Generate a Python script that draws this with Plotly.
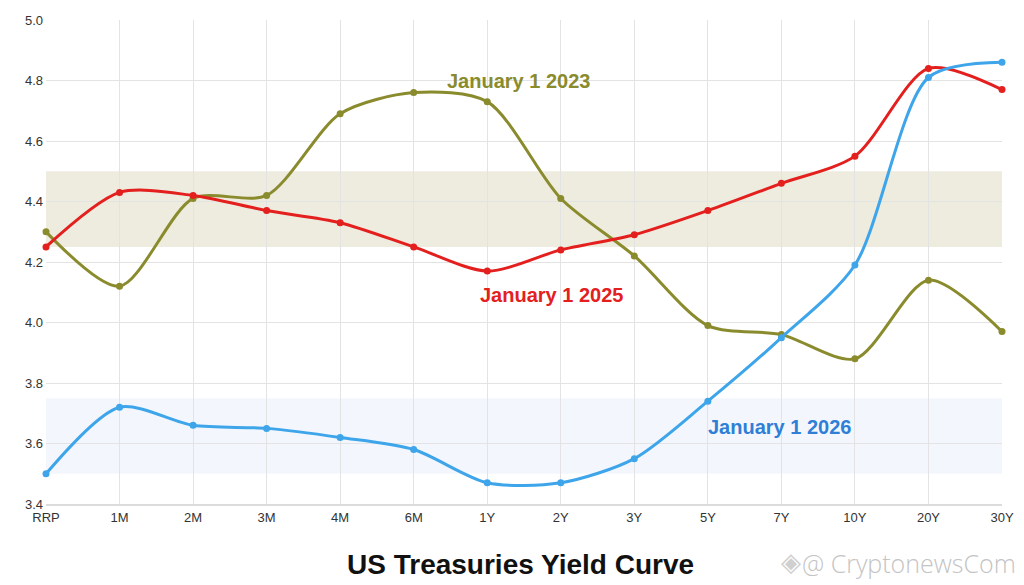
import plotly.graph_objects as go

categories = ["RRP", "1M", "2M", "3M", "4M", "6M", "1Y", "2Y", "3Y", "5Y", "7Y", "10Y", "20Y", "30Y"]
y2023 = [4.30, 4.12, 4.41, 4.42, 4.69, 4.76, 4.73, 4.41, 4.22, 3.99, 3.96, 3.88, 4.14, 3.97]
y2025 = [4.25, 4.43, 4.42, 4.37, 4.33, 4.25, 4.17, 4.24, 4.29, 4.37, 4.46, 4.55, 4.84, 4.77]
y2026 = [3.50, 3.72, 3.66, 3.65, 3.62, 3.58, 3.47, 3.47, 3.55, 3.74, 3.95, 4.19, 4.81, 4.86]
y_ticks = [3.4, 3.6, 3.8, 4.0, 4.2, 4.4, 4.6, 4.8, 5.0]
band_2025 = [4.25, 4.50]
band_2026 = [3.50, 3.75]

c2023 = "#8a8b2d"
c2025 = "#e3201e"
c2026 = "#3ea5ea"

# page offset of the plot div inside the browser window
OFF = 7
W, H = 1024 - OFF, 585 - OFF
L, T = 45 - OFF, 19 - OFF
R = W - (1001 - OFF)
B = H - (503 - OFF)

fig = go.Figure()
for name, ys, col in [("January 1 2023", y2023, c2023),
                      ("January 1 2025", y2025, c2025),
                      ("January 1 2026", y2026, c2026)]:
    fig.add_trace(go.Scatter(
        x=categories, y=ys, mode="lines+markers", name=name,
        line=dict(color=col, width=3, shape="spline", smoothing=0.8),
        marker=dict(color=col, size=7), cliponaxis=False, showlegend=False))

fig.add_shape(type="rect", xref="paper", x0=0, x1=1, yref="y", y0=band_2025[0], y1=band_2025[1],
              fillcolor="#eeebdf", line_width=0, layer="below")
fig.add_shape(type="rect", xref="paper", x0=0, x1=1, yref="y", y0=band_2026[0], y1=band_2026[1],
              fillcolor="#f3f7fd", line_width=0, layer="below")

lab_font = "Liberation Sans, Arial, sans-serif"
fig.add_annotation(x=6.43, y=4.80, xref="x", yref="y", text="<b>January 1 2023</b>", showarrow=False,
                   font=dict(color=c2023, size=20, family=lab_font))
fig.add_annotation(x=6.88, y=4.09, xref="x", yref="y", text="<b>January 1 2025</b>", showarrow=False,
                   font=dict(color=c2025, size=20, family=lab_font))
fig.add_annotation(x=9.98, y=3.655, xref="x", yref="y", text="<b>January 1 2026</b>", showarrow=False,
                   font=dict(color="#2f7fd6", size=20, family=lab_font))

pw = W - L - R
ph = H - T - B
def px_x(x):
    return (x - OFF - L) / pw
def px_y(y):
    return (H - B - (y - OFF)) / ph

fig.add_annotation(x=px_x(519), y=px_y(563), xref="paper", yref="paper", text="<b>US Treasuries Yield Curve</b>",
                   showarrow=False, yanchor="middle",
                   font=dict(color="#111111", size=28, family="Liberation Sans, Arial, sans-serif"))
fig.add_annotation(x=px_x(1017), y=px_y(562), xref="paper", yref="paper", text="@ CryptonewsCom", xanchor="right",
                   yanchor="middle", showarrow=False,
                   font=dict(color="#c4c4c4", size=25, family="Open Sans, sans-serif", weight=300))
fig.add_annotation(x=px_x(790), y=px_y(561), xref="paper", yref="paper", text="◈", xanchor="center",
                   yanchor="middle", showarrow=False,
                   font=dict(color="#d0d0d0", size=26, family="DejaVu Sans, sans-serif"))

fig.update_layout(
    width=W, height=H,
    margin=dict(l=L, r=R, t=T, b=B, autoexpand=False),
    paper_bgcolor="white", plot_bgcolor="white",
    xaxis=dict(type="category", range=[0, 13], showgrid=True, gridcolor="#e3e3e3", gridwidth=1,
               tickfont=dict(size=13, color="#333333", family="Liberation Sans Narrow, Liberation Sans, sans-serif"),
               ticks="", showline=True, linecolor="#dcdcdc", linewidth=2, zeroline=False),
    yaxis=dict(range=[3.4, 5.0], tickvals=y_ticks, tickformat=".1f", showgrid=True, gridcolor="#e3e3e3",
               gridwidth=1, zeroline=False, ticks="", ticklabelstandoff=2,
               tickfont=dict(size=13, color="#333333", family="Liberation Sans, Arial, sans-serif")),
)

fig.write_html("out.html")
